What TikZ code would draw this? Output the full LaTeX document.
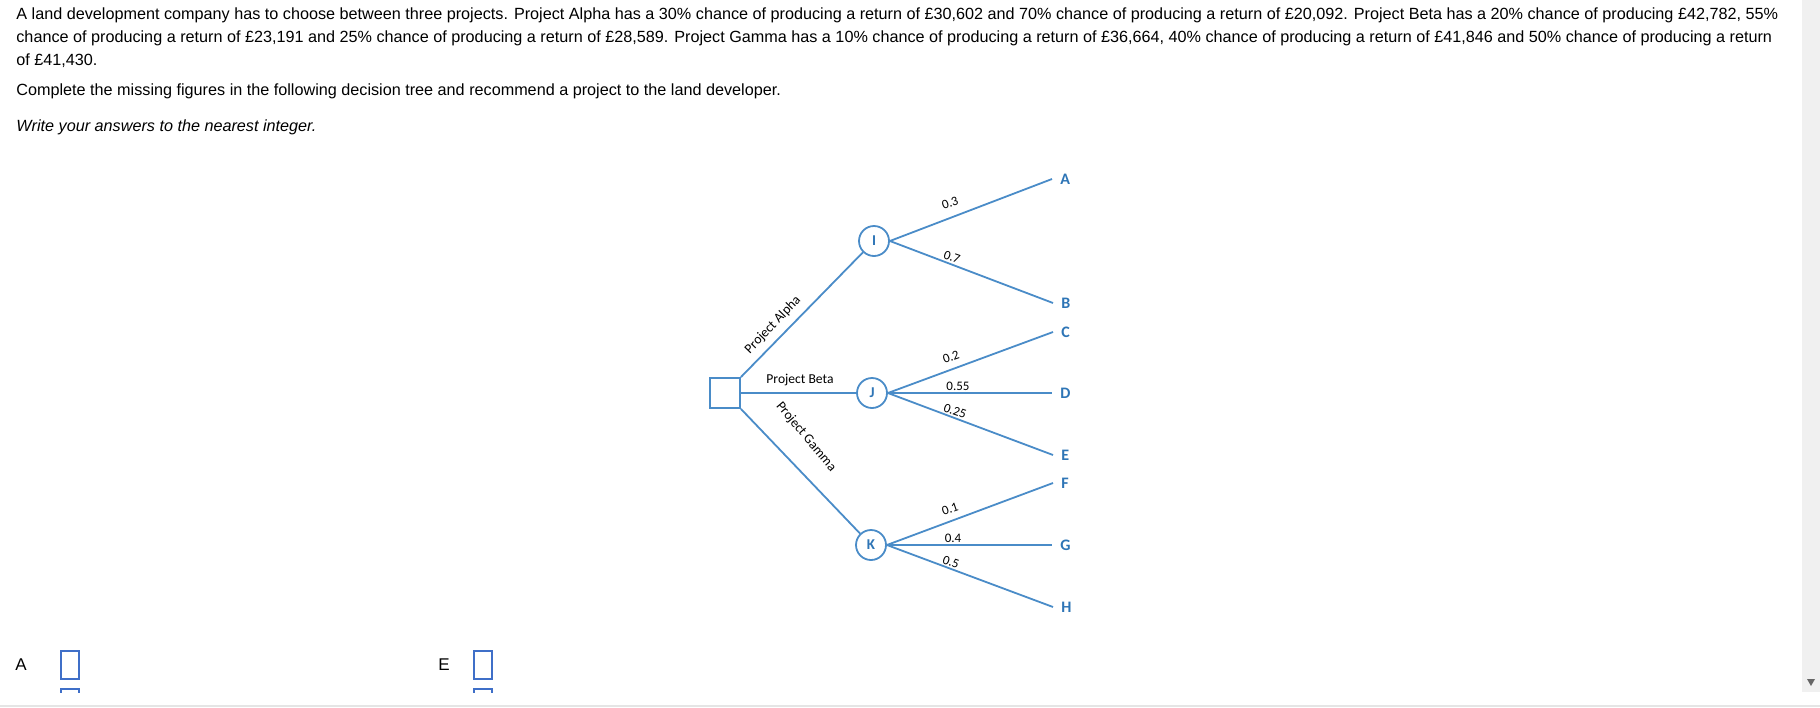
\documentclass[tikz,border=0pt]{standalone}
\usepackage{fontspec}
\setmainfont{Liberation Sans}
\newfontfamily\carlitofont{Carlito}
\definecolor{treeblue}{HTML}{4A8CC8}
\definecolor{letblue}{HTML}{2E75B6}
\definecolor{boxblue}{HTML}{3F6FC8}
\begin{document}
\begin{tikzpicture}[x=0.5pt,y=-0.5pt,
  para/.style={anchor=west,inner sep=0pt,font=\fontsize{8.1}{9}\selectfont},
  br/.style={draw=treeblue,line width=0.9pt},
  chance/.style={circle,draw=treeblue,line width=0.9pt,minimum size=15pt,inner sep=0pt,font=\carlitofont\bfseries\fontsize{7.5}{8}\selectfont,text=letblue},
  leaf/.style={font=\carlitofont\bfseries\fontsize{8}{8}\selectfont,text=letblue,anchor=west,inner sep=1pt},
  prob/.style={font=\carlitofont\fontsize{6.5}{7}\selectfont,inner sep=0pt},
  plab/.style={font=\carlitofont\fontsize{6.8}{7}\selectfont,inner sep=0pt},
  ans/.style={draw=boxblue,line width=0.7pt,minimum width=9pt,minimum height=14pt,inner sep=0pt}]
\useasboundingbox (0,0) rectangle (1820,707);
\fill[white] (0,0) rectangle (1820,707);
\node[para] (t1) at (16,15) {A land development company has to choose between three projects. Project Alpha has a 30\% chance of producing a return of £30,602 and 70\% chance of producing a return of £20,092. Project Beta has a 20\% chance of producing £42,782, 55\%};
\node[para] (t2) at (16,38) {chance of producing a return of £23,191 and 25\% chance of producing a return of £28,589. Project Gamma has a 10\% chance of producing a return of £36,664, 40\% chance of producing a return of £41,846 and 50\% chance of producing a return};
\node[para] (t3) at (16,61) {of £41,430.};
\node[para] (t4) at (16,91) {Complete the missing figures in the following decision tree and recommend a project to the land developer.};
\node[para,font=\itshape\fontsize{8.1}{9}\selectfont] (t5) at (16,127) {Write your answers to the nearest integer.};
% tree
\node[draw=treeblue,line width=0.9pt,minimum size=15pt,inner sep=0pt] (S) at (725,393) {};
\node[chance] (I) at (874,241) {I};
\node[chance] (J) at (872,393) {J};
\node[chance] (K) at (871,545) {K};
\coordinate (a) at (1052,179); \coordinate (b) at (1053,303);
\coordinate (c) at (1053,332); \coordinate (d) at (1052,393);
\coordinate (e) at (1053,455); \coordinate (f) at (1053,483);
\coordinate (g) at (1052,545); \coordinate (h) at (1053,607);
\draw[br] (S.north east) -- (I);
\draw[br] (S.east) -- (J);
\draw[br] (S.south east) -- (K);
\foreach \n/\p in {I/a,I/b,J/c,J/d,J/e,K/f,K/g,K/h} \draw[br] (\n.east) -- (\p);
\foreach \p/\l in {a/A,b/B,c/C,d/D,e/E,f/F,g/G,h/H} \node[leaf] (L\l) at ([xshift=3]\p) {\l};
\node[plab,rotate=46] (pa) at (773,325) {Project Alpha};
\node[plab] (pb) at (800,380) {Project Beta};
\node[plab,rotate=-50] (pg) at (806,437) {Project Gamma};
\node[prob,rotate=19] (p1) at (950,203) {0.3};
\node[prob,rotate=-19] (p2) at (952,257) {0.7};
\node[prob,rotate=19] (p3) at (951,357) {0.2};
\node[prob] (p4) at (958,386) {0.55};
\node[prob,rotate=-19] (p5) at (955,411) {0.25};
\node[prob,rotate=19] (p6) at (950,509) {0.1};
\node[prob] (p7) at (953,538) {0.4};
\node[prob,rotate=-19] (p8) at (951,562) {0.5};
% answer area
\begin{scope}
\clip (0,0) rectangle (1802,692);
\node[para,font=\fontsize{8.5}{9}\selectfont] (qa) at (15,665) {A};
\node[ans] (ba) at (70,665) {};
\node[para,font=\fontsize{8.5}{9}\selectfont] (qe) at (438,665) {E};
\node[ans] (be) at (483,665) {};
\node[para,font=\fontsize{8.5}{9}\selectfont] (qb) at (15,703) {B};
\node[ans] (bb) at (70,703) {};
\node[para,font=\fontsize{8.5}{9}\selectfont] (qf) at (438,703) {F};
\node[ans] (bf) at (483,703) {};
\end{scope}
\fill[black!6] (1802,0) rectangle (1820,692);
\fill[black!60] (1807,679) -- (1815,679) -- (1811,686) -- cycle;
\draw[black!10,line width=1pt] (0,706) -- (1820,706);
\end{tikzpicture}
\end{document}
